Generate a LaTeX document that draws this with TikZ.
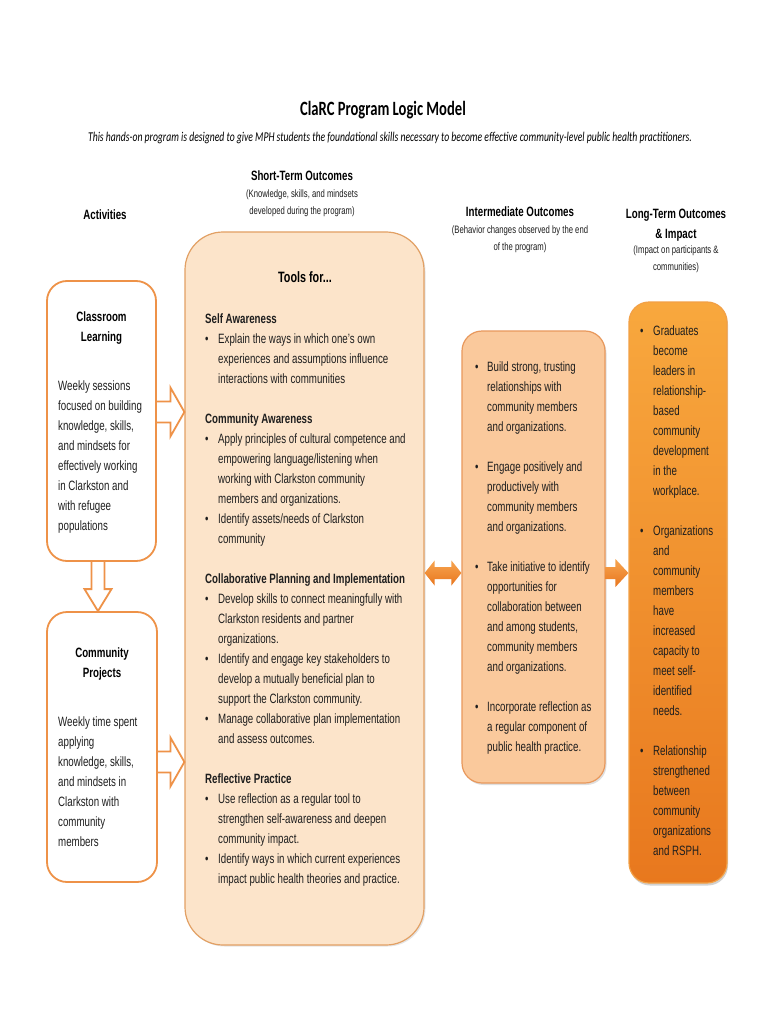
\documentclass[tikz,border=0pt]{standalone}
\usepackage{fontspec}
\setmainfont{Liberation Sans}[FakeStretch=0.72]
\newfontfamily\calibri{Carlito}[FakeStretch=0.72]
\usetikzlibrary{calc,shadows}

\definecolor{actorange}{RGB}{238,146,72}
\definecolor{stfill}{RGB}{252,228,202}
\definecolor{stline}{RGB}{226,160,100}
\definecolor{imfill}{RGB}{250,201,156}
\definecolor{imline}{RGB}{232,152,92}
\definecolor{lttop}{RGB}{248,168,62}
\definecolor{ltbot}{RGB}{232,120,30}
\definecolor{ltline}{RGB}{242,160,70}
\definecolor{arrtop}{RGB}{247,165,80}
\definecolor{arrbot}{RGB}{232,118,30}
\definecolor{inktext}{RGB}{30,30,30}

% hollow block arrow, left to right: style, from, to, shaft half, head half, head length
\newcommand{\harrow}[6]{%
  \draw[#1] let \p1=(#2), \p2=(#3) in
    (\x1,\y1+#4) -- (\x2-#6,\y1+#4) -- (\x2-#6,\y1+#5) -- (\x2,\y1)
    -- (\x2-#6,\y1-#5) -- (\x2-#6,\y1-#4) -- (\x1,\y1-#4);}
% hollow block arrow, top to bottom
\newcommand{\varrow}[6]{%
  \draw[#1] let \p1=(#2), \p2=(#3) in
    (\x1-#4,\y1) -- (\x1-#4,\y2+#6) -- (\x1-#5,\y2+#6) -- (\x1,\y2)
    -- (\x1+#5,\y2+#6) -- (\x1+#4,\y2+#6) -- (\x1+#4,\y1);}
% filled block arrow with two heads
\newcommand{\darrow}[6]{%
  \path[#1] let \p1=(#2), \p2=(#3) in
    (\x1,\y1) -- (\x1+#6,\y1+#5) -- (\x1+#6,\y1+#4) -- (\x2-#6,\y1+#4)
    -- (\x2-#6,\y1+#5) -- (\x2,\y1) -- (\x2-#6,\y1-#5) -- (\x2-#6,\y1-#4)
    -- (\x1+#6,\y1-#4) -- (\x1+#6,\y1-#5) -- cycle;}
% filled block arrow with one head
\newcommand{\sarrow}[6]{%
  \path[#1] let \p1=(#2), \p2=(#3) in
    (\x1,\y1+#4) -- (\x2-#6,\y1+#4) -- (\x2-#6,\y1+#5) -- (\x2,\y1)
    -- (\x2-#6,\y1-#5) -- (\x2-#6,\y1-#4) -- (\x1,\y1-#4) -- cycle;}

\tikzset{
  body/.style={font=\fontsize{13.5}{20}\selectfont, text=inktext, inner sep=0pt},
  head/.style={font=\fontsize{13.5}{20}\selectfont\bfseries, inner sep=0pt},
  sub/.style={font=\fontsize{10.7}{17}\selectfont, text=inktext, inner sep=0pt},
  actbox/.style={draw=actorange, line width=1.8pt, fill=white, rounded corners=20pt},
  stbox/.style={draw=stline, line width=1.2pt, fill=stfill, rounded corners=38pt,
    drop shadow={shadow xshift=1.5pt, shadow yshift=-1.5pt, opacity=0.2}},
  imbox/.style={draw=imline, line width=1.2pt, fill=imfill, rounded corners=20pt,
    drop shadow={shadow xshift=1.5pt, shadow yshift=-2pt, opacity=0.25}},
  ltbox/.style={draw=ltline, line width=1.2pt, top color=lttop, bottom color=ltbot,
    rounded corners=20pt,
    drop shadow={shadow xshift=1pt, shadow yshift=-2.5pt, opacity=0.35}},
  hollow/.style={draw=actorange, line width=1.8pt, line join=miter},
  solid arrow/.style={top color=arrtop, bottom color=arrbot}
}

\begin{document}
\begin{tikzpicture}[x=1pt,y=-1pt]
  \fill[white] (0,0) rectangle (768,1024);
  \useasboundingbox (0,0) rectangle (768,1024);

  % headings
  \node[font=\calibri\fontsize{20.3}{24}\selectfont\bfseries, anchor=base] (title) at (383,116) {ClaRC Program Logic Model};
  \node[font=\calibri\fontsize{13.45}{16}\selectfont\itshape, anchor=base] (tagline) at (390,142)
    {This hands-on program is designed to give MPH students the foundational skills necessary to become effective community-level public health practitioners.};

  \node[head, anchor=base] (acthead) at (105,220) {Activities};
  \node[head, anchor=base] (sthead) at (302,181) {Short-Term Outcomes};
  \node[sub, anchor=north] (stsub) at (302,185.6)
    {\begin{tabular}{@{}c@{}}(Knowledge, skills, and mindsets\\developed during the program)\end{tabular}};
  \node[head, anchor=base] (imhead) at (520,217) {Intermediate Outcomes};
  \node[sub, anchor=north] (imsub) at (520,221.6)
    {\begin{tabular}{@{}c@{}}(Behavior changes observed by the end\\of the program)\end{tabular}};
  \node[head, anchor=north] (lthead) at (676,204)
    {\begin{tabular}{@{}c@{}}Long-Term Outcomes\\\& Impact\end{tabular}};
  \node[sub, anchor=north] (ltsub) at (676,241.6)
    {\begin{tabular}{@{}c@{}}(Impact on participants \&\\communities)\end{tabular}};

  % boxes
  \node[actbox, minimum width=109, minimum height=280] (cls) at (101.5,421) {};
  \node[actbox, minimum width=110, minimum height=270] (cpj) at (102,747) {};
  \node[stbox, minimum width=239, minimum height=713] (stb) at (304.5,588.5) {};
  \node[imbox, minimum width=143, minimum height=452] (imb) at (533.5,557) {};
  \node[ltbox, minimum width=98, minimum height=581] (ltb) at (678,592.5) {};

  % arrows
  \coordinate (clsout) at (cls.east |- 0,412);
  \coordinate (cpjout) at (cpj.east |- 0,762);
  \coordinate (clsdown) at (cls.south -| 98,0);
  \coordinate (midy) at (0,573);
  \harrow{hollow}{clsout}{stb.west |- clsout}{10.5pt}{24.5pt}{14pt}
  \harrow{hollow}{cpjout}{stb.west |- cpjout}{10.5pt}{24.5pt}{14pt}
  \varrow{hollow}{clsdown}{cpj.north -| clsdown}{6.5pt}{13.5pt}{22pt}
  \darrow{solid arrow}{stb.east |- midy}{imb.west |- midy}{6pt}{12.5pt}{10pt}
  \sarrow{solid arrow}{imb.east |- midy}{ltb.west |- midy}{6pt}{14pt}{13pt}

  % activities
  \node[head, anchor=north] (clstitle) at (101.5,307)
    {\begin{tabular}{@{}c@{}}Classroom\\Learning\end{tabular}};
  \node[body, anchor=north west] (clstext) at (58,376)
    {\begin{tabular}{@{}l@{}}Weekly sessions\\focused on building\\knowledge, skills,\\and mindsets for\\effectively working\\in Clarkston and\\with refugee\\populations\end{tabular}};
  \node[head, anchor=north] (cpjtitle) at (102,643)
    {\begin{tabular}{@{}c@{}}Community\\Projects\end{tabular}};
  \node[body, anchor=north west] (cpjtext) at (58,712)
    {\begin{tabular}{@{}l@{}}Weekly time spent\\applying\\knowledge, skills,\\and mindsets in\\Clarkston with\\community\\members\end{tabular}};

  % short-term outcomes
  \node[font=\fontsize{15}{18}\selectfont\bfseries, anchor=base] (tools) at (305,282.5) {Tools for...};
  \node[body, anchor=north west] (sttext) at (205,309.5)
    {\begin{tabular}{@{}l@{\hspace{9.6pt}}l@{}}
     \multicolumn{2}{@{}l@{}}{\textbf{Self Awareness}}\\
     \textbullet & Explain the ways in which one’s own\\
     & experiences and assumptions influence\\
     & interactions with communities\\
     \\
     \multicolumn{2}{@{}l@{}}{\textbf{Community Awareness}}\\
     \textbullet & Apply principles of cultural competence and\\
     & empowering language/listening when\\
     & working with Clarkston community\\
     & members and organizations.\\
     \textbullet & Identify assets/needs of Clarkston\\
     & community\\
     \\
     \multicolumn{2}{@{}l@{}}{\textbf{Collaborative Planning and Implementation}}\\
     \textbullet & Develop skills to connect meaningfully with\\
     & Clarkston residents and partner\\
     & organizations.\\
     \textbullet & Identify and engage key stakeholders to\\
     & develop a mutually beneficial plan to\\
     & support the Clarkston community.\\
     \textbullet & Manage collaborative plan implementation\\
     & and assess outcomes.\\
     \\
     \multicolumn{2}{@{}l@{}}{\textbf{Reflective Practice}}\\
     \textbullet & Use reflection as a regular tool to\\
     & strengthen self-awareness and deepen\\
     & community impact.\\
     \textbullet & Identify ways in which current experiences\\
     & impact public health theories and practice.
     \end{tabular}};

  % intermediate outcomes
  \node[body, anchor=north west] (imtext) at (475,357)
    {\begin{tabular}{@{}l@{\hspace{8.6pt}}l@{}}
     \textbullet & Build strong, trusting\\
     & relationships with\\
     & community members\\
     & and organizations.\\
     \\
     \textbullet & Engage positively and\\
     & productively with\\
     & community members\\
     & and organizations.\\
     \\
     \textbullet & Take initiative to identify\\
     & opportunities for\\
     & collaboration between\\
     & and among students,\\
     & community members\\
     & and organizations.\\
     \\
     \textbullet & Incorporate reflection as\\
     & a regular component of\\
     & public health practice.
     \end{tabular}};

  % long-term outcomes
  \node[body, anchor=north west] (lttext) at (640,321)
    {\begin{tabular}{@{}l@{\hspace{9.6pt}}l@{}}
     \textbullet & Graduates\\ & become\\ & leaders in\\ & relationship-\\ & based\\
     & community\\ & development\\ & in the\\ & workplace.\\
     \\
     \textbullet & Organizations\\ & and\\ & community\\ & members\\ & have\\
     & increased\\ & capacity to\\ & meet self-\\ & identified\\ & needs.\\
     \\
     \textbullet & Relationship\\ & strengthened\\ & between\\ & community\\
     & organizations\\ & and RSPH.
     \end{tabular}};
\end{tikzpicture}
\end{document}
